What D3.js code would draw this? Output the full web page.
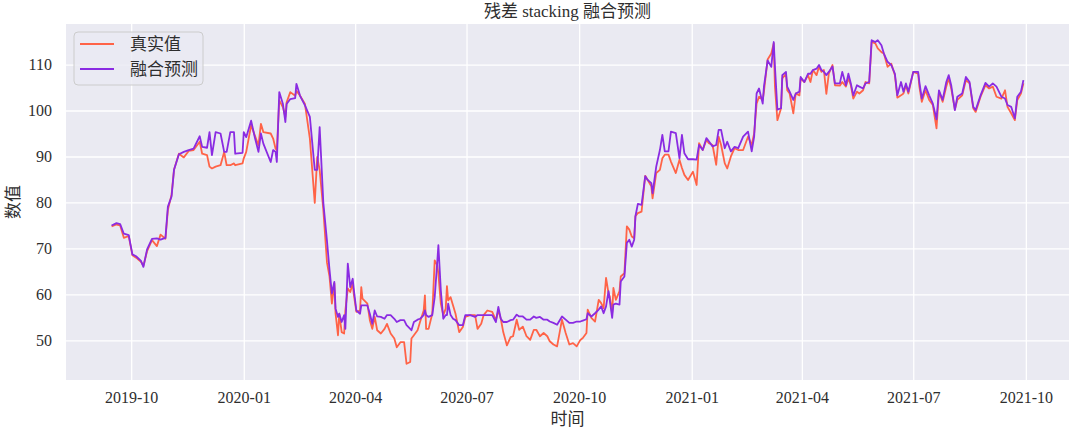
<!DOCTYPE html>
<head>
  <meta charset="utf-8">
  <style>
    body { margin: 0; background: #ffffff; }
    text { font-family: "Liberation Serif", "Noto Sans CJK SC", serif; fill: #2e2e2e; }
  </style>
<title>残差 stacking 融合预测</title>
</head>

<body>

  <script src="https://cdn.jsdelivr.net/npm/d3@7/dist/d3.min.js"></script>

  <script>
    // data (dates, true values, stacking predictions)
    const dates = [
      // 2019-09 .. 2020-03
      "2019-09-15","2019-09-19","2019-09-22","2019-09-25","2019-09-29","2019-10-02","2019-10-05","2019-10-09","2019-10-11","2019-10-14",
      "2019-10-18","2019-10-22","2019-10-25","2019-10-29","2019-10-31","2019-11-03","2019-11-05","2019-11-09","2019-11-13","2019-11-17",
      "2019-11-21","2019-11-26","2019-11-28","2019-12-02","2019-12-04","2019-12-06","2019-12-09","2019-12-13","2019-12-16","2019-12-18",
      "2019-12-21","2019-12-24","2019-12-25","2019-12-31","2020-01-01","2020-01-03","2020-01-07","2020-01-10","2020-01-13","2020-01-15",
      "2020-01-17","2020-01-23","2020-01-25","2020-01-27","2020-01-28","2020-01-30","2020-02-02","2020-02-04","2020-02-05","2020-02-08",
      "2020-02-12","2020-02-13","2020-02-16","2020-02-20","2020-02-24","2020-02-28","2020-03-01","2020-03-03","2020-03-06","2020-03-09",
      "2020-03-11","2020-03-13",
      // 2020-03 .. 2020-08
      "2020-03-15","2020-03-16","2020-03-18","2020-03-19","2020-03-21","2020-03-23","2020-03-24","2020-03-26","2020-03-28","2020-03-30",
      "2020-03-31","2020-04-02","2020-04-05","2020-04-06","2020-04-07","2020-04-11","2020-04-13","2020-04-15","2020-04-17","2020-04-19",
      "2020-04-22","2020-04-25","2020-04-27","2020-04-30","2020-05-03","2020-05-05","2020-05-08","2020-05-11","2020-05-13","2020-05-16",
      "2020-05-17","2020-05-19","2020-05-22","2020-05-24","2020-05-27","2020-05-28","2020-05-29","2020-05-31","2020-06-03","2020-06-05",
      "2020-06-07","2020-06-08","2020-06-10","2020-06-12","2020-06-14","2020-06-15","2020-06-16","2020-06-18","2020-06-20","2020-06-22",
      "2020-06-25","2020-06-28","2020-06-30","2020-07-04","2020-07-08","2020-07-10","2020-07-13","2020-07-15","2020-07-18","2020-07-22",
      "2020-07-25","2020-07-27","2020-07-29","2020-07-31","2020-08-03","2020-08-06",
      // 2020-08 .. 2021-01
      "2020-08-08","2020-08-11","2020-08-13","2020-08-16","2020-08-19","2020-08-22","2020-08-25","2020-08-27","2020-08-30","2020-09-02",
      "2020-09-05","2020-09-07","2020-09-10","2020-09-13","2020-09-17","2020-09-20","2020-09-23","2020-09-26","2020-09-29","2020-10-02",
      "2020-10-04","2020-10-07","2020-10-08","2020-10-11","2020-10-14","2020-10-17","2020-10-19","2020-10-21","2020-10-23","2020-10-25",
      "2020-10-26","2020-10-28","2020-10-29","2020-10-31","2020-11-03","2020-11-04","2020-11-07","2020-11-09","2020-11-11","2020-11-13",
      "2020-11-15","2020-11-16","2020-11-18","2020-11-21","2020-11-24","2020-11-26","2020-11-29","2020-11-30","2020-12-03","2020-12-06",
      "2020-12-08","2020-12-10","2020-12-13","2020-12-15","2020-12-19","2020-12-22","2020-12-24","2020-12-26","2020-12-29","2021-01-02",
      "2021-01-05","2021-01-07","2021-01-10","2021-01-13","2021-01-15","2021-01-18","2021-01-21","2021-01-23",
      // 2021-01 .. 2021-09
      "2021-01-25","2021-01-28","2021-01-30","2021-02-02","2021-02-05","2021-02-08","2021-02-12","2021-02-16","2021-02-19","2021-02-21",
      "2021-02-23","2021-02-25","2021-02-28","2021-03-01","2021-03-04","2021-03-07","2021-03-09","2021-03-10","2021-03-12","2021-03-15",
      "2021-03-16","2021-03-19","2021-03-20","2021-03-22","2021-03-25","2021-03-27","2021-03-30","2021-03-31","2021-04-03","2021-04-06",
      "2021-04-08","2021-04-10","2021-04-13","2021-04-15","2021-04-17","2021-04-19","2021-04-21","2021-04-23","2021-04-26","2021-04-28",
      "2021-05-02","2021-05-04","2021-05-07","2021-05-09","2021-05-11","2021-05-13","2021-05-16","2021-05-18","2021-05-21","2021-05-23",
      "2021-05-26","2021-05-28","2021-05-31","2021-06-02","2021-06-05","2021-06-07","2021-06-10","2021-06-13","2021-06-16","2021-06-18",
      "2021-06-21","2021-06-23","2021-06-25","2021-06-27","2021-07-01","2021-07-05","2021-07-06","2021-07-08","2021-07-11","2021-07-14",
      "2021-07-17","2021-07-20","2021-07-22","2021-07-25","2021-07-28","2021-07-30","2021-08-01","2021-08-04","2021-08-06","2021-08-10",
      "2021-08-13","2021-08-16","2021-08-19","2021-08-21","2021-08-25","2021-08-29","2021-09-01","2021-09-04","2021-09-07","2021-09-11",
      "2021-09-14","2021-09-16","2021-09-19","2021-09-22","2021-09-24","2021-09-27","2021-09-29"
    ];

    const trueValues = [
      // 2019-09 .. 2020-03
      74.8, 75.2, 75.0, 72.3, 72.7, 68.5, 68.0, 67.1, 66.2, 69.4,
      71.8, 70.5, 73.0, 72.1, 78.4, 81.7, 87.1, 90.6, 89.8, 91.2,
      91.4, 93.2, 90.6, 90.3, 87.8, 87.4, 87.8, 88.1, 91.0, 88.1,
      88.1, 88.5, 88.1, 88.5, 89.6, 91.0, 96.8, 94.6, 92.4, 97.1,
      95.3, 95.0, 93.9, 91.7, 91.4, 102.2, 100.7, 98.6, 101.8, 104.0,
      103.2, 104.3, 103.2, 101.4, 93.9, 79.9, 89.9, 87.1, 78.4, 66.9,
      64.0, 58.0,
      // 2020-03 .. 2020-08
      62.4, 55.8, 51.1, 55.8, 51.8, 51.5, 56.5, 61.3, 60.5, 62.4,
      59.8, 56.2, 56.5, 61.6, 59.1, 58.0, 54.4, 52.5, 55.1, 52.2,
      51.5, 52.5, 53.6, 51.5, 50.4, 48.5, 49.6, 49.6, 44.9, 45.3,
      50.4, 51.1, 52.2, 54.0, 56.5, 59.8, 52.5, 52.5, 55.8, 67.4,
      66.4, 64.5, 58.0, 55.5, 56.9, 61.8, 58.7, 59.4, 57.6, 55.8,
      51.8, 52.9, 55.1, 55.5, 55.5, 52.5, 53.6, 55.5, 56.5, 56.2,
      54.4, 56.5, 54.7, 51.8, 48.9, 50.7,
      // 2020-08 .. 2021-01
      50.9, 54.5, 52.3, 53.0, 50.9, 50.1, 52.3, 52.3, 50.9, 51.6,
      50.9, 49.8, 49.1, 48.7, 54.5, 51.6, 49.1, 49.4, 48.7, 50.1,
      50.5, 51.6, 56.7, 54.9, 54.1, 58.8, 58.1, 57.0, 63.6, 60.3,
      59.6, 55.9, 61.4, 58.8, 60.7, 63.9, 64.6, 74.8, 74.1, 72.6,
      72.2, 77.0, 77.7, 78.0, 85.8, 84.9, 83.5, 80.9, 86.4, 87.1,
      89.6, 90.4, 90.4, 88.9, 86.4, 89.3, 87.5, 86.0, 84.9, 86.7,
      83.8, 92.9, 91.4, 93.6, 92.9, 92.5, 88.2, 94.3,
      // 2021-01 .. 2021-09
      92.5, 88.5, 87.4, 90.0, 91.8, 91.4, 91.4, 94.3, 92.5, 95.0,
      101.5, 103.0, 102.3, 104.1, 111.1, 112.4, 114.6, 105.2, 97.9, 100.5,
      107.0, 108.0, 104.4, 103.7, 99.4, 103.7, 103.3, 107.0, 106.2, 107.7,
      106.2, 108.8, 107.7, 109.5, 108.4, 108.8, 103.6, 108.0, 109.9, 105.5,
      105.4, 106.2, 105.2, 107.0, 105.5, 102.6, 104.1, 103.7, 104.4, 106.2,
      105.9, 114.9, 114.6, 113.5, 112.7, 112.4, 109.5, 110.2, 107.7, 102.8,
      103.3, 103.7, 105.5, 103.7, 108.4, 108.0, 105.2, 101.9, 104.4, 102.3,
      101.2, 96.1, 104.1, 101.9, 105.2, 107.0, 104.8, 100.2, 102.3, 103.3,
      106.6, 105.9, 100.5, 99.7, 103.0, 105.5, 104.8, 105.2, 103.0, 102.6,
      104.4, 100.8, 99.4, 97.9, 102.3, 103.7, 105.9
    ];

    const stackValues = [
      // 2019-09 .. 2020-03
      75.0, 75.5, 75.3, 73.2, 72.9, 68.7, 68.3, 67.3, 66.0, 69.8,
      72.1, 72.2, 71.9, 72.3, 79.1, 81.3, 87.1, 90.5, 91.0, 91.4,
      91.7, 94.4, 92.1, 91.9, 95.3, 90.3, 95.3, 95.0, 91.0, 91.0,
      95.3, 95.3, 90.6, 90.8, 95.3, 94.2, 97.8, 94.2, 91.0, 95.0,
      92.8, 88.8, 91.4, 91.0, 88.8, 104.0, 101.4, 97.5, 101.4, 102.5,
      102.7, 105.8, 103.2, 101.1, 98.6, 87.1, 87.1, 96.4, 79.9, 71.6,
      65.5, 60.2,
      // 2020-03 .. 2020-08
      62.7, 56.9, 55.1, 55.8, 54.0, 55.5, 52.5, 66.7, 61.6, 63.4,
      60.9, 56.5, 55.8, 57.6, 57.6, 57.6, 55.8, 53.6, 56.5, 55.2,
      55.1, 54.7, 55.5, 55.5, 54.7, 54.0, 54.4, 54.4, 53.3, 52.5,
      52.2, 54.0, 54.5, 54.7, 55.5, 56.5, 55.5, 55.1, 55.5, 59.4,
      66.7, 70.7, 60.9, 54.7, 55.5, 55.5, 58.0, 55.5, 54.7, 54.4,
      53.3, 53.3, 55.5, 55.5, 55.1, 55.5, 55.5, 55.5, 55.5, 55.5,
      54.0, 57.3, 54.7, 54.0, 54.0, 54.4,
      // 2020-08 .. 2021-01
      54.5, 55.6, 55.2, 55.2, 54.5, 54.5, 55.2, 54.9, 55.1, 54.5,
      54.5, 54.1, 53.8, 53.4, 55.2, 54.5, 53.8, 53.8, 54.1, 54.1,
      54.3, 54.6, 55.9, 55.2, 55.9, 56.7, 57.4, 55.9, 57.4, 60.7,
      58.8, 54.9, 57.8, 58.0, 57.8, 62.8, 63.9, 71.2, 71.9, 70.4,
      71.9, 77.0, 79.7, 79.5, 85.7, 84.9, 84.2, 82.0, 87.8, 91.4,
      94.7, 91.1, 91.1, 95.4, 95.1, 89.6, 94.7, 90.7, 89.4, 89.4,
      89.3, 92.5, 91.4, 94.0, 93.3, 92.2, 92.5, 95.8,
      // 2021-01 .. 2021-09
      95.8, 91.8, 93.2, 91.1, 92.1, 91.8, 94.3, 95.4, 91.1, 94.3,
      103.7, 104.8, 101.5, 105.2, 110.9, 109.5, 114.9, 109.5, 100.2, 100.5,
      107.7, 108.4, 105.2, 104.1, 102.3, 103.7, 104.1, 107.3, 106.2, 108.0,
      108.0, 108.8, 109.1, 109.9, 108.8, 108.4, 107.7, 108.4, 109.6, 105.9,
      105.9, 108.4, 105.5, 108.0, 105.9, 103.3, 105.5, 105.2, 104.8, 105.9,
      106.2, 115.3, 114.9, 115.3, 114.2, 112.4, 110.6, 109.9, 108.0, 103.3,
      106.2, 104.1, 105.9, 104.1, 108.4, 108.4, 106.2, 102.6, 105.3, 103.3,
      101.5, 98.1, 104.4, 102.3, 106.2, 107.7, 105.5, 100.1, 103.0, 103.7,
      107.3, 106.2, 100.8, 100.1, 103.3, 106.0, 105.2, 105.9, 105.2, 103.0,
      102.6, 101.2, 100.8, 98.3, 103.0, 104.1, 106.6
    ];

    const seriesNames = ["真实值", "融合预测"];
    const seriesColors = ["#ff6347", "#8a2be2"];
    const yTicks = [50, 60, 70, 80, 90, 100, 110];

    // define the dimensions and margins for the graph
    const margin = { top: 24, right: 11, bottom: 48, left: 66 };
    const width = 1080 - margin.left - margin.right;
    const height = 428 - margin.top - margin.bottom;

    const parseDate = d3.timeParse("%Y-%m-%d");
    const data = dates.map((d, i) => ({
      date: parseDate(d),
      real: trueValues[i],
      stack: stackValues[i]
    }));

    // matplotlib-like 5% margins on both axes
    const xExt = d3.extent(data, d => d.date);
    const xPad = (xExt[1] - xExt[0]) * 0.05;
    const allY = trueValues.concat(stackValues);
    const yMin = d3.min(allY), yMax = d3.max(allY);
    const yPad = (yMax - yMin) * 0.05;

    const x = d3.scaleTime()
      .domain([new Date(+xExt[0] - xPad), new Date(+xExt[1] + xPad)])
      .range([0, width]);
    const y = d3.scaleLinear()
      .domain([yMin - yPad, yMax + yPad])
      .range([height, 0]);

    const svg = d3.select("body").append("svg")
      .attr("width", width + margin.left + margin.right)
      .attr("height", height + margin.top + margin.bottom);

    const g = svg.append("g")
      .attr("transform", `translate(${margin.left},${margin.top})`);

    // plot background
    g.append("rect")
      .attr("width", width)
      .attr("height", height)
      .attr("fill", "#eaeaf2");

    // X axis + vertical grid
    const xAxis = g.append("g")
      .attr("transform", `translate(0,${height})`)
      .call(d3.axisBottom(x)
        .ticks(d3.timeMonth.every(3))
        .tickFormat(d3.timeFormat("%Y-%m"))
        .tickSizeInner(-height)
        .tickSizeOuter(0)
        .tickPadding(12));

    // Y axis + horizontal grid
    const yAxis = g.append("g")
      .call(d3.axisLeft(y)
        .tickValues(yTicks)
        .tickSizeInner(-width)
        .tickSizeOuter(0)
        .tickPadding(14));

    [xAxis, yAxis].forEach(ax => {
      ax.select(".domain").remove();
      ax.selectAll(".tick line").attr("stroke", "#ffffff").attr("stroke-width", 1.3);
      ax.selectAll(".tick text")
        .attr("fill", "#2e2e2e")
        .style("font-size", "16px")
        .style("font-family", '"Liberation Serif", serif');
    });

    // lines
    const lineReal = d3.line().x(d => x(d.date)).y(d => y(d.real));
    const lineStack = d3.line().x(d => x(d.date)).y(d => y(d.stack));

    g.append("path")
      .datum(data)
      .attr("fill", "none")
      .attr("stroke", seriesColors[0])
      .attr("stroke-width", 1.8)
      .attr("stroke-linejoin", "round")
      .attr("d", lineReal);

    g.append("path")
      .datum(data)
      .attr("fill", "none")
      .attr("stroke", seriesColors[1])
      .attr("stroke-width", 1.8)
      .attr("stroke-linejoin", "round")
      .attr("d", lineStack);

    // legend
    const legend = g.append("g").attr("transform", "translate(8,8)");
    legend.append("rect")
      .attr("width", 129)
      .attr("height", 53)
      .attr("rx", 4)
      .attr("fill", "#eaeaf2")
      .attr("fill-opacity", 0.8)
      .attr("stroke", "#cccccc")
      .attr("stroke-width", 1);

    seriesNames.forEach((name, i) => {
      const ly = 12 + i * 25;
      legend.append("line")
        .attr("x1", 6).attr("x2", 40)
        .attr("y1", ly).attr("y2", ly)
        .attr("stroke", seriesColors[i])
        .attr("stroke-width", 1.8);
      legend.append("text")
        .attr("x", 56)
        .attr("y", ly)
        .attr("dy", "0.36em")
        .style("font-size", "17px")
        .text(name);
    });

    // title
    svg.append("text")
      .attr("x", margin.left + width / 2)
      .attr("y", 17)
      .style("text-anchor", "middle")
      .style("font-size", "17px")
      .text("残差 stacking 融合预测");

    // axis labels
    svg.append("text")
      .attr("x", margin.left + width / 2)
      .attr("y", 425)
      .style("text-anchor", "middle")
      .style("font-size", "17px")
      .text("时间");

    svg.append("text")
      .attr("transform", `translate(18.5,${margin.top + height / 2}) rotate(-90)`)
      .style("text-anchor", "middle")
      .style("font-size", "17px")
      .text("数值");
  </script>

</body>
